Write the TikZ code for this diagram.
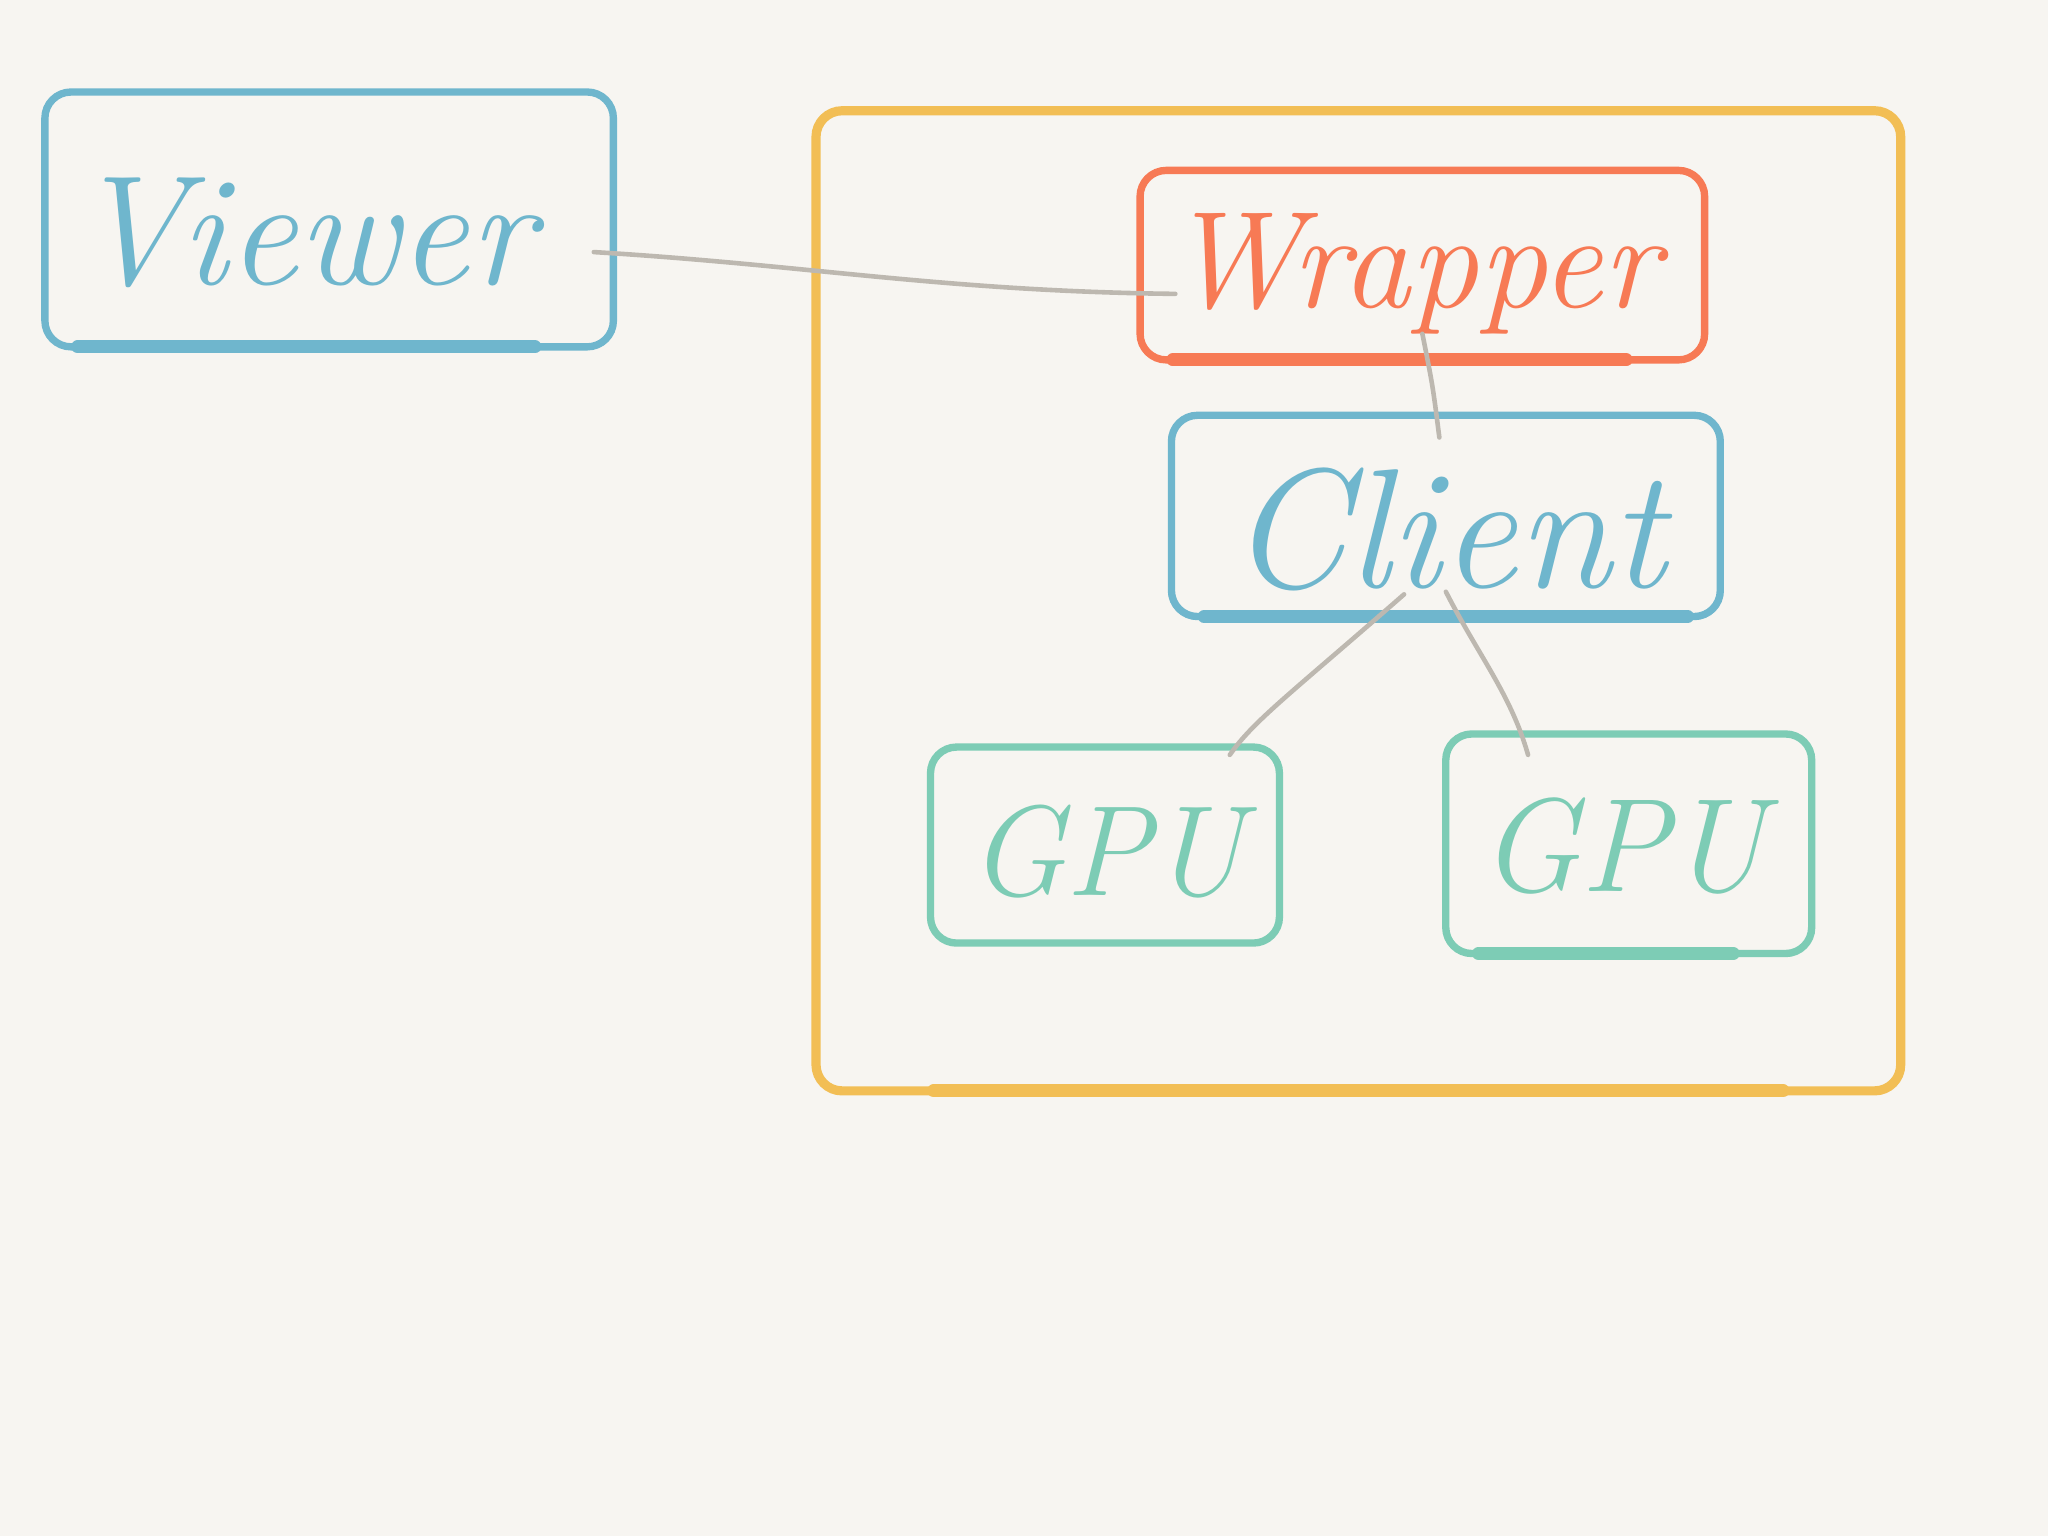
\documentclass[tikz,border=0pt]{standalone}
\usetikzlibrary{calc}
\definecolor{bg}{HTML}{F7F5F1}
\definecolor{cblue}{HTML}{6FB6CD}
\definecolor{cyellow}{HTML}{F2BE55}
\definecolor{cred}{HTML}{F77A55}
\definecolor{cteal}{HTML}{7DCCB5}
\definecolor{cgray}{HTML}{BDB8B0}
\tikzset{
  sketchbox/.style={draw, line width=1.6pt, rounded corners=0.2cm, inner sep=0pt, outer sep=0pt},
  lbl/.style={inner sep=0pt, font=\itshape\fontsize{#1}{#1}\selectfont},
  link/.style={draw=cgray, line width=1pt, line cap=round},
  heavy/.style={line width=2.8pt, line cap=round}
}
\begin{document}
\begin{tikzpicture}[x=0.01cm,y=-0.01cm]
\fill[bg] (0,0) rectangle (1568,1176);
\useasboundingbox (0,0) rectangle (1568,1176);
\node[sketchbox, draw=cyellow, line width=2pt, minimum width=8.3cm, minimum height=7.5cm] (outer) at (1040,460) {};
\node[sketchbox, draw=cblue, minimum width=4.35cm, minimum height=1.95cm] (viewer) at (252,168) {};
\node[lbl=34, text=cblue] (viewert) at (232,178) {Viewer};
\node[sketchbox, draw=cred, minimum width=4.32cm, minimum height=1.45cm] (wrapper) at (1089,203) {};
\node[lbl=30, text=cred] (wrappert) at (1082,210) {Wrapper};
\node[sketchbox, draw=cblue, minimum width=4.2cm, minimum height=1.54cm] (client) at (1107,395) {};
\node[lbl=37, text=cblue] (clientt) at (1108,405) {Client};
\node[sketchbox, draw=cteal, minimum width=2.67cm, minimum height=1.5cm] (gpul) at (846,647) {};
\node[lbl=28, text=cteal] (gpult) at (847,652) {GPU};
\node[sketchbox, draw=cteal, minimum width=2.8cm, minimum height=1.68cm] (gpur) at (1247,646) {};
\node[lbl=29, text=cteal] (gpurt) at (1242,648) {GPU};
% heavier bottom strokes, as in the sketch
\draw[heavy, cblue] ($(viewer.south west)+(25,0)$) -- ($(viewer.south east)+(-60,0)$);
\draw[heavy, cred] ($(wrapper.south west)+(25,0)$) -- ($(wrapper.south east)+(-60,0)$);
\draw[heavy, cblue] ($(client.south west)+(25,0)$) -- ($(client.south east)+(-25,0)$);
\draw[heavy, cteal] ($(gpur.south west)+(25,0)$) -- ($(gpur.south east)+(-60,0)$);
\draw[heavy, cyellow] ($(outer.south west)+(90,0)$) -- ($(outer.south east)+(-90,0)$);
\draw[link] ($(viewer.east)+(-15,25)$) .. controls ($(viewer.east)+(150,35)$) and ($(wrapper.west)+(-150,20)$) .. ($(wrapper.west)+(27,22)$);
\draw[link] ($(wrapper.south)+(0,-20)$) .. controls ($(wrapper.south)+(8,20)$) .. ($(client.north)+(-5,17)$);
\draw[link] ($(client.south)+(-32,-17)$) .. controls ($(client.south)+(-120,60)$) and ($(gpul.north east)+(-20,-20)$) .. ($(gpul.north east)+(-38,6)$);
\draw[link] ($(client.south)+(0,-19)$) .. controls ($(client.south)+(25,30)$) and ($(gpur.north west)+(50,-30)$) .. ($(gpur.north west)+(63,16)$);
\end{tikzpicture}
\end{document}
